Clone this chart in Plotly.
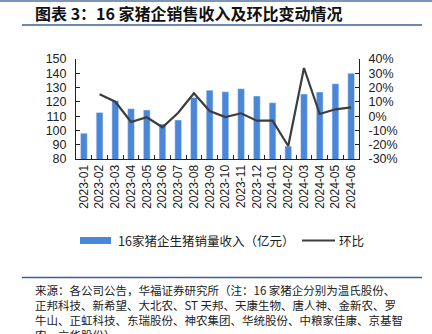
import plotly.graph_objects as go

months = ["2023-01","2023-02","2023-03","2023-04","2023-05","2023-06","2023-07","2023-08","2023-09",
          "2023-10","2023-11","2023-12","2024-01","2024-02","2024-03","2024-04","2024-05","2024-06"]
revenue = [98.0, 112.5, 120.8, 115.2, 114.3, 104.5, 107.3, 123.0, 128.2,
           127.1, 129.2, 124.1, 119.4, 89.0, 125.5, 126.9, 132.7, 140.0]
mom = [None, 15.3, 10.1, -4.1, -0.8, -7.8, 2.4, 16.0, 3.6,
       -0.6, 2.0, -3.2, -3.2, -20.9, 33.7, 1.5, 4.8, 6.2]

left_ticks = [80, 90, 100, 110, 120, 130, 140, 150]
right_ticks = [-30, -20, -10, 0, 10, 20, 30, 40]

title = "图表 3：16 家猪企销售收入及环比变动情况"
bar_name = "16家猪企生猪销量收入（亿元）"
line_name = "环比"
note = ("来源：各公司公告，华福证券研究所（注：16 家猪企分别为温氏股份、<br>"
        "正邦科技、新希望、大北农、ST 天邦、天康生物、唐人神、金新农、罗<br>"
        "牛山、正虹科技、东瑞股份、神农集团、华统股份、中粮家佳康、京基智<br>"
        "农、立华股份）")

BAR_C = "#4a87d8"
LINE_C = "#3d3d3d"
AX_C = "#222222"
CJK = "Noto Sans CJK SC"
LAT = "Liberation Sans, Arial"

fig = go.Figure()
fig.add_trace(go.Bar(x=months, y=revenue, marker_color=BAR_C, name=bar_name, yaxis="y"))
fig.add_trace(go.Scatter(x=months, y=mom, mode="lines", line=dict(color=LINE_C, width=2.2),
                         name=line_name, yaxis="y2", connectgaps=False))

W, H = 432, 334
L, R, T, B = 76, 73, 59, 175

def px(x):
    return (x - L) / (W - L - R)

def py(y):
    return (H - B - y) / (H - T - B)

fig.update_layout(
    width=W, height=H,
    margin=dict(l=L, r=R, t=T, b=B, pad=0),
    paper_bgcolor="white", plot_bgcolor="white",
    showlegend=False,
    bargap=0.57,
    font=dict(family=LAT, size=12, color="#222"),
    xaxis=dict(type="category", tickangle=-90, showline=True, linecolor=AX_C, linewidth=1,
               ticks="inside", ticklen=4, tickcolor=AX_C, tickson="boundaries",
               tickfont=dict(family=LAT, size=12, color="#222"), showgrid=False, mirror=False),
    yaxis=dict(range=[80, 150], tickvals=left_ticks, showline=True, linecolor=AX_C, linewidth=1,
               ticks="inside", ticklen=4, tickcolor=AX_C, showgrid=False, zeroline=False,
               tickfont=dict(family=LAT, size=12.5, color="#222"), ticklabelstandoff=6),
    yaxis2=dict(range=[-30, 40], tickvals=right_ticks, ticktext=[f"{v}%" for v in right_ticks],
                overlaying="y", side="right", showline=True, linecolor=AX_C, linewidth=1,
                ticks="inside", ticklen=4, tickcolor=AX_C, showgrid=False, zeroline=False,
                tickfont=dict(family=LAT, size=12.5, color="#222"), ticklabelstandoff=6),
)

shapes = [
    dict(type="line", xref="paper", yref="paper", x0=px(0), x1=px(W), y0=py(1), y1=py(1),
         line=dict(color="#7d95b8", width=2)),
    dict(type="line", xref="paper", yref="paper", x0=px(22), x1=px(422), y0=py(25), y1=py(25),
         line=dict(color="#3f5f8f", width=1.3)),
    dict(type="line", xref="paper", yref="paper", x0=px(22), x1=px(422), y0=py(277.5), y1=py(277.5),
         line=dict(color="#3f5f8f", width=1.3)),
    # legend symbols
    dict(type="rect", xref="paper", yref="paper", x0=px(80), x1=px(111), y0=py(244), y1=py(237),
         fillcolor=BAR_C, line=dict(width=0)),
    dict(type="line", xref="paper", yref="paper", x0=px(302), x1=px(335), y0=py(240.5), y1=py(240.5),
         line=dict(color=LINE_C, width=2.2)),
]
fig.update_layout(shapes=shapes)

ann = [
    dict(text="<b>" + title + "</b>", x=px(33), y=py(13), xanchor="left", yanchor="middle",
         font=dict(family=CJK, size=16, color="#111")),
    dict(text=bar_name, x=px(116), y=py(241), xanchor="left", yanchor="middle",
         font=dict(family=CJK, size=12.5, color="#222")),
    dict(text=line_name, x=px(337), y=py(241), xanchor="left", yanchor="middle",
         font=dict(family=CJK, size=12.5, color="#222")),
    dict(text=note, x=px(33), y=py(280), xanchor="left", yanchor="top", align="left",
         font=dict(family=CJK, size=11.5, color="#222")),
]
for a in ann:
    a.update(xref="paper", yref="paper", showarrow=False)
fig.update_layout(annotations=ann)

fig.write_html("out.html")
